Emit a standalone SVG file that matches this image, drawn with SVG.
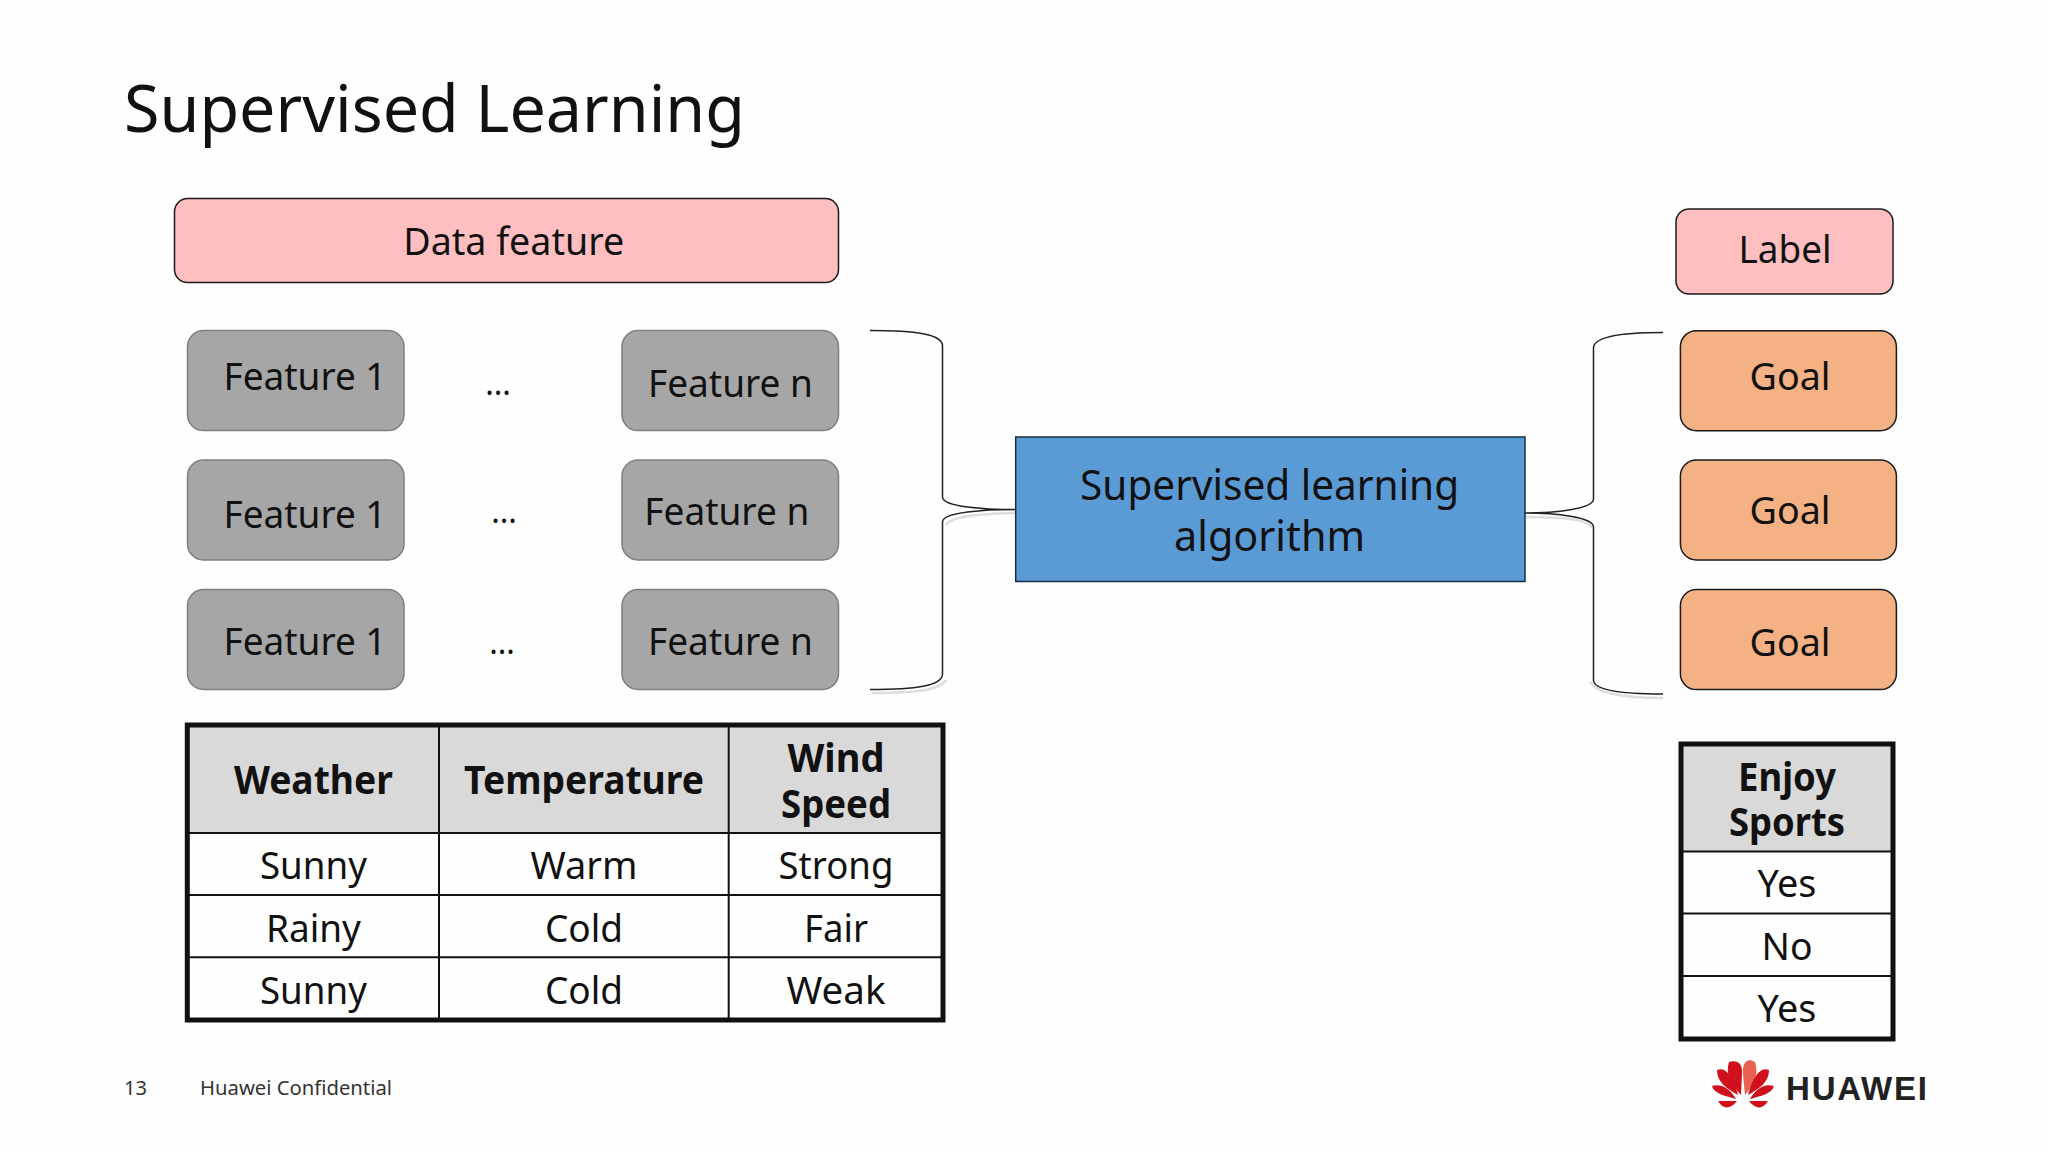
<svg xmlns="http://www.w3.org/2000/svg" width="2048" height="1152" viewBox="0 0 2048 1152">
<style>
text{font-family:"Noto Sans","Open Sans",sans-serif;fill:#111;text-anchor:middle}
.t{font-size:39px}
.h{font-size:38.5px;font-weight:700}
.pink{fill:#FFBFC1;stroke:#1a1a1a;stroke-width:1.5}
.gray{fill:#A6A6A6;stroke:#7f7f7f;stroke-width:1.5}
.orange{fill:#F4B183;stroke:#1a1a1a;stroke-width:1.5}
.br{fill:none;stroke:#222;stroke-width:1.5}
.sh{fill:none;stroke:#ddd;stroke-width:2.5}
.g{stroke:#111;stroke-width:2;fill:none}
.o{stroke:#111;stroke-width:5;fill:none}
.p{fill:#D0101C}
</style>
<rect width="2048" height="1152" fill="#fefefe"/>
<text id="title" x="124" y="132" textLength="621" lengthAdjust="spacingAndGlyphs" style="font-size:66px;text-anchor:start">Supervised Learning</text>
<g id="connectors">
<path class="sh" d="M872,693 C917,693 940,690 946,680 M946,525 C952,515 985,514 1015,513"/>
<path class="sh" d="M1525,517 C1555,517 1588,518 1592,528 M1590,682 C1596,692 1620,698 1663,698"/>
<path class="br" d="M870,330.6 C915,330.6 942.5,334 942.5,346 L942.5,497 C942.5,507 985,509.6 1015.7,509.6 C985,509.6 942.5,512 942.5,522 L942.5,674 C942.5,686 915,689.6 870,689.6"/>
<path class="br" d="M1663,332.5 C1620,332.5 1593.5,337 1593.5,348 L1593.5,499 C1593.5,509 1555,513 1525,513 C1555,513 1593.5,517 1593.5,527 L1593.5,680 C1593.5,690 1620,694 1663,694"/>
</g>
<g id="data-feature"><rect class="pink" x="174.5" y="198.6" width="664" height="84" rx="13"/><text class="t" x="513.7" y="255" textLength="221" lengthAdjust="spacingAndGlyphs">Data feature</text></g>
<g id="label"><rect class="pink" x="1676" y="209" width="217" height="85" rx="13"/><text class="t" x="1785" y="263" textLength="93" lengthAdjust="spacingAndGlyphs">Label</text></g>
<g id="f1-1"><rect class="gray" x="187.5" y="330.6" width="216.5" height="100" rx="16"/><text class="t" x="305" y="390" textLength="163" lengthAdjust="spacingAndGlyphs">Feature 1</text></g>
<g id="f1-2"><rect class="gray" x="187.5" y="460" width="216.5" height="100" rx="16"/><text class="t" x="305" y="528" textLength="163" lengthAdjust="spacingAndGlyphs">Feature 1</text></g>
<g id="f1-3"><rect class="gray" x="187.5" y="589.5" width="216.5" height="100" rx="16"/><text class="t" x="305" y="655" textLength="163" lengthAdjust="spacingAndGlyphs">Feature 1</text></g>
<g id="dots-1"><text x="498" y="395" style="font-size:32px">...</text></g>
<g id="dots-2"><text x="504" y="523" style="font-size:32px">...</text></g>
<g id="dots-3"><text x="502" y="654" style="font-size:32px">...</text></g>
<g id="fn-1"><rect class="gray" x="622" y="330.6" width="216.5" height="100" rx="16"/><text class="t" x="730.5" y="397" textLength="165" lengthAdjust="spacingAndGlyphs">Feature n</text></g>
<g id="fn-2"><rect class="gray" x="622" y="460" width="216.5" height="100" rx="16"/><text class="t" x="726.8" y="525" textLength="165" lengthAdjust="spacingAndGlyphs">Feature n</text></g>
<g id="fn-3"><rect class="gray" x="622" y="589.5" width="216.5" height="100" rx="16"/><text class="t" x="730.5" y="655" textLength="165" lengthAdjust="spacingAndGlyphs">Feature n</text></g>
<g id="algorithm"><rect x="1015.7" y="437" width="509.3" height="144.5" fill="#5B9BD5" stroke="#14303f" stroke-width="1.5"/><text x="1269.6" y="500" textLength="379" lengthAdjust="spacingAndGlyphs" style="font-size:42px">Supervised learning</text><text x="1269.6" y="551" textLength="191" lengthAdjust="spacingAndGlyphs" style="font-size:42px">algorithm</text></g>
<g id="goal-1"><rect class="orange" x="1680.4" y="330.7" width="216" height="100" rx="16"/><text class="t" x="1790" y="390" textLength="81" lengthAdjust="spacingAndGlyphs">Goal</text></g>
<g id="goal-2"><rect class="orange" x="1680.4" y="460" width="216" height="100" rx="16"/><text class="t" x="1790" y="524" textLength="81" lengthAdjust="spacingAndGlyphs">Goal</text></g>
<g id="goal-3"><rect class="orange" x="1680.4" y="589.6" width="216" height="100" rx="16"/><text class="t" x="1790" y="656" textLength="81" lengthAdjust="spacingAndGlyphs">Goal</text></g>
<g id="feature-table">
<rect x="187.3" y="725" width="755.7" height="108" fill="#D9D9D9"/>
<path class="g" d="M187,833H943M187,895H943M187,957.3H943M439,725V1020M728.7,725V1020"/>
<rect class="o" x="187.3" y="725" width="755.7" height="295"/>
<text class="h" x="313.4" y="794" textLength="159" lengthAdjust="spacingAndGlyphs">Weather</text><text class="h" x="584" y="794" textLength="240" lengthAdjust="spacingAndGlyphs">Temperature</text><text class="h" x="836" y="772" textLength="97" lengthAdjust="spacingAndGlyphs">Wind</text><text class="h" x="836" y="818" textLength="110" lengthAdjust="spacingAndGlyphs">Speed</text>
<text class="t" x="313.4" y="879" textLength="107" lengthAdjust="spacingAndGlyphs">Sunny</text><text class="t" x="584" y="879" textLength="107" lengthAdjust="spacingAndGlyphs">Warm</text><text class="t" x="836" y="879" textLength="115" lengthAdjust="spacingAndGlyphs">Strong</text>
<text class="t" x="313.4" y="942" textLength="95" lengthAdjust="spacingAndGlyphs">Rainy</text><text class="t" x="584" y="942" textLength="78" lengthAdjust="spacingAndGlyphs">Cold</text><text class="t" x="836" y="942" textLength="64" lengthAdjust="spacingAndGlyphs">Fair</text>
<text class="t" x="313.4" y="1004" textLength="107" lengthAdjust="spacingAndGlyphs">Sunny</text><text class="t" x="584" y="1004" textLength="78" lengthAdjust="spacingAndGlyphs">Cold</text><text class="t" x="836" y="1004" textLength="99" lengthAdjust="spacingAndGlyphs">Weak</text>
</g>
<g id="goal-table">
<rect x="1681" y="744" width="212" height="107" fill="#D9D9D9"/>
<path class="g" d="M1681,851.5H1893M1681,913.5H1893M1681,976H1893"/>
<rect class="o" x="1681" y="744" width="212" height="295"/>
<text class="h" x="1787" y="791" textLength="98" lengthAdjust="spacingAndGlyphs">Enjoy</text><text class="h" x="1787" y="836" textLength="116" lengthAdjust="spacingAndGlyphs">Sports</text>
<text class="t" x="1787" y="897" textLength="59" lengthAdjust="spacingAndGlyphs">Yes</text><text class="t" x="1787" y="960" textLength="51" lengthAdjust="spacingAndGlyphs">No</text><text class="t" x="1787" y="1022" textLength="59" lengthAdjust="spacingAndGlyphs">Yes</text>
</g>
<text x="124" y="1095" style="font-size:20px;text-anchor:start;fill:#333">13</text>
<text x="200" y="1095" textLength="192" lengthAdjust="spacingAndGlyphs" style="font-size:20.5px;text-anchor:start;fill:#333">Huawei Confidential</text>
<g id="logo">
<path class="p" d="M1741,1095 C1731,1084 1725,1074 1729,1062 C1738,1059 1743,1064 1742,1074 Z"/>
<path fill="#E8604F" d="M1745,1095 C1754,1084 1759,1074 1755,1062 C1747,1057 1742,1063 1743,1074 Z"/>
<path class="p" d="M1738,1095 C1726,1088 1717,1082 1717,1070 C1727,1066 1734,1080 1738,1095 Z"/>
<path class="p" d="M1748,1095 C1760,1088 1769,1082 1769,1070 C1759,1066 1752,1080 1748,1095 Z"/>
<path class="p" d="M1736,1099 C1726,1096 1714,1094 1712,1086 C1722,1083 1731,1090 1736,1099 Z"/>
<path class="p" d="M1750,1099 C1760,1096 1772,1094 1774,1086 C1764,1083 1755,1090 1750,1099 Z"/>
<path class="p" d="M1718,1101 L1737,1101 C1731,1109 1723,1110 1718,1101 Z"/>
<path class="p" d="M1768,1101 L1749,1101 C1755,1109 1763,1110 1768,1101 Z"/>
<text x="1786" y="1100" textLength="141" style="font-family:'Liberation Sans',sans-serif;font-size:33px;font-weight:700;text-anchor:start;fill:#222">HUAWEI</text>
</g>
</svg>
